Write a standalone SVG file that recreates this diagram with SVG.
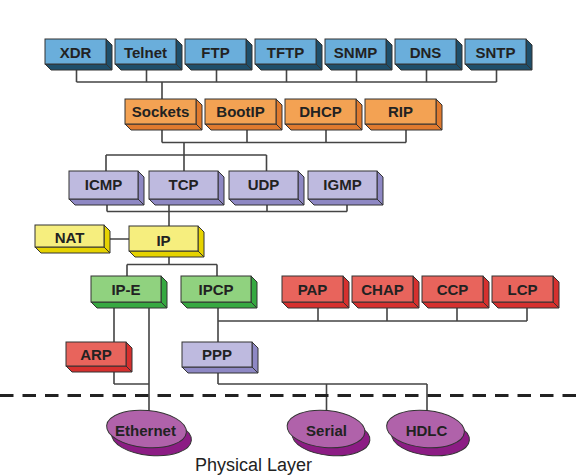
<svg xmlns="http://www.w3.org/2000/svg" width="583" height="475" viewBox="0 0 583 475">
<style>
.f{stroke:#333;stroke-width:1}
.s{stroke:#333;stroke-width:1;stroke-linejoin:round}
.e{stroke:#333;stroke-width:1}
.blue .f{fill:#6AAEDB}.blue .s{fill:#1F4F6B}
.orange .f{fill:#F3A253}.orange .s{fill:#E07A2E}
.lav .f{fill:#BEBADF}.lav .s{fill:#8E88C4}
.yel .f{fill:#F6EE7E}.yel .s{fill:#E6D300}
.grn .f{fill:#90D27F}.grn .s{fill:#36A941}
.red .f{fill:#E8645C}.red .s{fill:#D6302E}
.pur .f{fill:#B062AA}.pur .s{fill:#8C1C84}
text{font-family:"Liberation Sans",Arial,sans-serif;fill:#222}
.lbl{font-size:15px;font-weight:bold;text-anchor:middle}
.conn{fill:none;stroke:#444;stroke-width:1.6}
</style>

<g id="connectors" class="conn">
<path d="M76.5 60V82M146.5 60V82M216.5 60V82M286.5 60V82M356.5 60V82M426.5 60V82M496.5 60V82M76.5 82H496.5M162 82V110"/>
<path d="M162 115V142.5M247 115V142.5M326 115V142.5M406 115V142.5M162 142.5H406M184 142.5V155M106 155H266.5M106 155V180M184 155V180M266.5 155V180"/>
<path d="M107 190V211.5M169 190V211.5M267 190V211.5M347 190V211.5M107 211.5H347M169 211.5V264.5M110 239H129"/>
<path d="M127 264.5H217M127 264.5V285M217 264.5V285"/>
<path d="M318 295V321M387 295V321M457 295V321M527 295V321M218 321H527"/>
<path d="M114 295V384M149 295V420M218 295V384M114 384H149M218 384H427M326.5 384V420M427 384V420"/>
</g>

<line id="boundary" x1="0" y1="395.5" x2="583" y2="395.5" stroke="#222" stroke-width="3" stroke-dasharray="13.5 9"/>

<g id="XDR" class="blue"><polygon class="s" points="106,39 112,45 112,70 51,70 45,64 106,64"/><line class="e" x1="106" y1="64" x2="112" y2="70"/><rect class="f" x="45" y="39" width="61" height="25"/><text class="lbl" x="75.5" y="58">XDR</text></g>
<g id="Telnet" class="blue"><polygon class="s" points="176,39 182,45 182,70 121,70 115,64 176,64"/><line class="e" x1="176" y1="64" x2="182" y2="70"/><rect class="f" x="115" y="39" width="61" height="25"/><text class="lbl" x="145.5" y="58">Telnet</text></g>
<g id="FTP" class="blue"><polygon class="s" points="246,39 252,45 252,70 191,70 185,64 246,64"/><line class="e" x1="246" y1="64" x2="252" y2="70"/><rect class="f" x="185" y="39" width="61" height="25"/><text class="lbl" x="215.5" y="58">FTP</text></g>
<g id="TFTP" class="blue"><polygon class="s" points="316,39 322,45 322,70 261,70 255,64 316,64"/><line class="e" x1="316" y1="64" x2="322" y2="70"/><rect class="f" x="255" y="39" width="61" height="25"/><text class="lbl" x="285.5" y="58">TFTP</text></g>
<g id="SNMP" class="blue"><polygon class="s" points="386,39 392,45 392,70 331,70 325,64 386,64"/><line class="e" x1="386" y1="64" x2="392" y2="70"/><rect class="f" x="325" y="39" width="61" height="25"/><text class="lbl" x="355.5" y="58">SNMP</text></g>
<g id="DNS" class="blue"><polygon class="s" points="456,39 462,45 462,70 401,70 395,64 456,64"/><line class="e" x1="456" y1="64" x2="462" y2="70"/><rect class="f" x="395" y="39" width="61" height="25"/><text class="lbl" x="425.5" y="58">DNS</text></g>
<g id="SNTP" class="blue"><polygon class="s" points="526,39 532,45 532,70 471,70 465,64 526,64"/><line class="e" x1="526" y1="64" x2="532" y2="70"/><rect class="f" x="465" y="39" width="61" height="25"/><text class="lbl" x="495.5" y="58">SNTP</text></g>

<g id="Sockets" class="orange"><polygon class="s" points="196,99 202,105 202,130 131,130 125,124 196,124"/><line class="e" x1="196" y1="124" x2="202" y2="130"/><rect class="f" x="125" y="99" width="71" height="25"/><text class="lbl" x="160.5" y="117">Sockets</text></g>
<g id="BootIP" class="orange"><polygon class="s" points="276,99 282,105 282,130 211,130 205,124 276,124"/><line class="e" x1="276" y1="124" x2="282" y2="130"/><rect class="f" x="205" y="99" width="71" height="25"/><text class="lbl" x="240.5" y="117">BootIP</text></g>
<g id="DHCP" class="orange"><polygon class="s" points="356,99 362,105 362,130 291,130 285,124 356,124"/><line class="e" x1="356" y1="124" x2="362" y2="130"/><rect class="f" x="285" y="99" width="71" height="25"/><text class="lbl" x="320.5" y="117">DHCP</text></g>
<g id="RIP" class="orange"><polygon class="s" points="436,99 442,105 442,130 371,130 365,124 436,124"/><line class="e" x1="436" y1="124" x2="442" y2="130"/><rect class="f" x="365" y="99" width="71" height="25"/><text class="lbl" x="400.5" y="117">RIP</text></g>

<g id="ICMP" class="lav"><polygon class="s" points="138,171 144,177 144,205 75,205 69,199 138,199"/><line class="e" x1="138" y1="199" x2="144" y2="205"/><rect class="f" x="69" y="171" width="69" height="28"/><text class="lbl" x="103.5" y="190">ICMP</text></g>
<g id="TCP" class="lav"><polygon class="s" points="218,171 224,177 224,205 155,205 149,199 218,199"/><line class="e" x1="218" y1="199" x2="224" y2="205"/><rect class="f" x="149" y="171" width="69" height="28"/><text class="lbl" x="183.5" y="190">TCP</text></g>
<g id="UDP" class="lav"><polygon class="s" points="298,171 304,177 304,205 235,205 229,199 298,199"/><line class="e" x1="298" y1="199" x2="304" y2="205"/><rect class="f" x="229" y="171" width="69" height="28"/><text class="lbl" x="263.5" y="190">UDP</text></g>
<g id="IGMP" class="lav"><polygon class="s" points="377,171 383,177 383,205 314,205 308,199 377,199"/><line class="e" x1="377" y1="199" x2="383" y2="205"/><rect class="f" x="308" y="171" width="69" height="28"/><text class="lbl" x="342.5" y="190">IGMP</text></g>

<g id="NAT" class="yel"><polygon class="s" points="104,225 110,231 110,253 41,253 35,247 104,247"/><line class="e" x1="104" y1="247" x2="110" y2="253"/><rect class="f" x="35" y="225" width="69" height="22"/><text class="lbl" x="69.5" y="243">NAT</text></g>
<g id="IP" class="yel"><polygon class="s" points="198,226 204,232 204,257 135,257 129,251 198,251"/><line class="e" x1="198" y1="251" x2="204" y2="257"/><rect class="f" x="129" y="226" width="69" height="25"/><text class="lbl" x="163.5" y="246">IP</text></g>

<g id="IP-E" class="grn"><polygon class="s" points="161,276 167,282 167,308 97,308 91,302 161,302"/><line class="e" x1="161" y1="302" x2="167" y2="308"/><rect class="f" x="91" y="276" width="70" height="26"/><text class="lbl" x="126" y="295">IP-E</text></g>
<g id="IPCP" class="grn"><polygon class="s" points="251,276 257,282 257,308 187,308 181,302 251,302"/><line class="e" x1="251" y1="302" x2="257" y2="308"/><rect class="f" x="181" y="276" width="70" height="26"/><text class="lbl" x="216" y="295">IPCP</text></g>

<g id="PAP" class="red"><polygon class="s" points="343,276 349,282 349,308 288,308 282,302 343,302"/><line class="e" x1="343" y1="302" x2="349" y2="308"/><rect class="f" x="282" y="276" width="61" height="26"/><text class="lbl" x="312.5" y="295">PAP</text></g>
<g id="CHAP" class="red"><polygon class="s" points="413,276 419,282 419,308 358,308 352,302 413,302"/><line class="e" x1="413" y1="302" x2="419" y2="308"/><rect class="f" x="352" y="276" width="61" height="26"/><text class="lbl" x="382.5" y="295">CHAP</text></g>
<g id="CCP" class="red"><polygon class="s" points="483,276 489,282 489,308 428,308 422,302 483,302"/><line class="e" x1="483" y1="302" x2="489" y2="308"/><rect class="f" x="422" y="276" width="61" height="26"/><text class="lbl" x="452.5" y="295">CCP</text></g>
<g id="LCP" class="red"><polygon class="s" points="553,276 559,282 559,308 498,308 492,302 553,302"/><line class="e" x1="553" y1="302" x2="559" y2="308"/><rect class="f" x="492" y="276" width="61" height="26"/><text class="lbl" x="522.5" y="295">LCP</text></g>

<g id="ARP" class="red"><polygon class="s" points="126,342 132,348 132,372 72,372 66,366 126,366"/><line class="e" x1="126" y1="366" x2="132" y2="372"/><rect class="f" x="66" y="342" width="60" height="24"/><text class="lbl" x="96" y="360">ARP</text></g>
<g id="PPP" class="lav"><polygon class="s" points="252,342 258,348 258,373 188,373 182,367 252,367"/><line class="e" x1="252" y1="367" x2="258" y2="373"/><rect class="f" x="182" y="342" width="70" height="25"/><text class="lbl" x="217" y="360">PPP</text></g>

<g id="Ethernet" class="pur"><ellipse class="s" cx="151.5" cy="437" rx="40" ry="18.5" transform="rotate(5 151.5 437)"/><ellipse class="f" cx="146.5" cy="429" rx="40" ry="18.5" transform="rotate(5 146.5 429)"/><text class="lbl" x="145.5" y="436">Ethernet</text></g>
<g id="Serial" class="pur"><ellipse class="s" cx="331" cy="437" rx="39" ry="18.5" transform="rotate(5 331 437)"/><ellipse class="f" cx="326" cy="429" rx="39" ry="18.5" transform="rotate(5 326 429)"/><text class="lbl" x="326.5" y="436">Serial</text></g>
<g id="HDLC" class="pur"><ellipse class="s" cx="430.5" cy="437" rx="39" ry="18.5" transform="rotate(5 430.5 437)"/><ellipse class="f" cx="425.5" cy="429" rx="39" ry="18.5" transform="rotate(5 425.5 429)"/><text class="lbl" x="426.5" y="436">HDLC</text></g>

<text id="physical" x="195" y="471" font-size="18">Physical Layer</text>
</svg>
